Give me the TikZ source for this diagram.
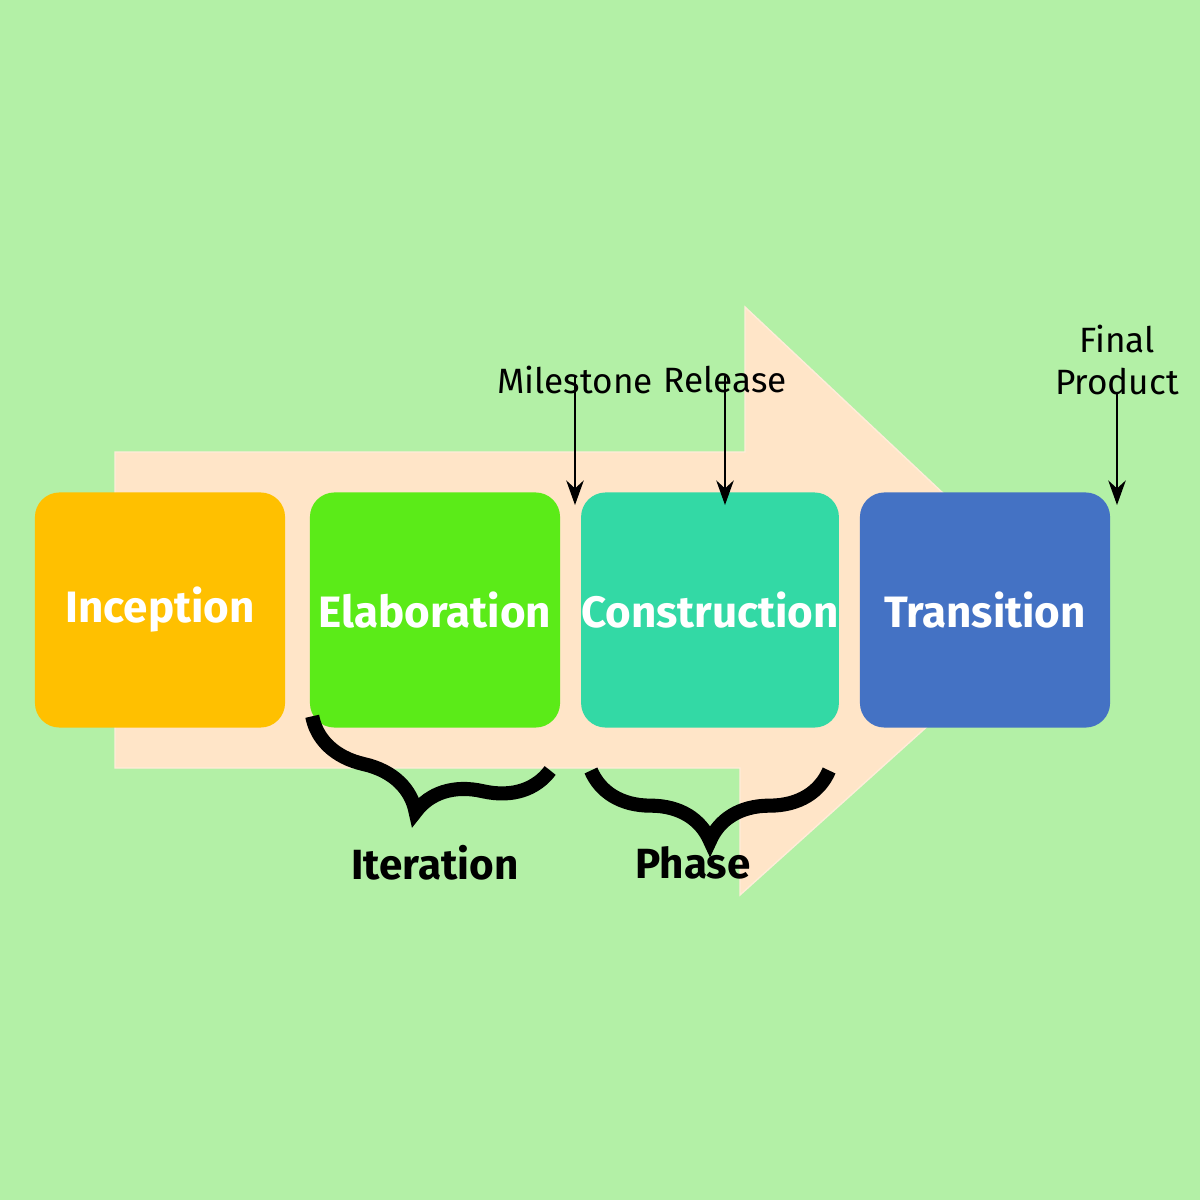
\documentclass[tikz,border=0pt]{standalone}
\usepackage{fontspec}
\setmainfont{Fira Sans}
\usetikzlibrary{decorations.pathreplacing,arrows.meta}
\definecolor{bg}{HTML}{B3F0A6}
\definecolor{peach}{HTML}{FFE5C8}
\definecolor{c1}{HTML}{FFC000}
\definecolor{c2}{HTML}{5BEB18}
\definecolor{c3}{HTML}{33D9A5}
\definecolor{c4}{HTML}{4472C4}
\tikzset{
 phasebox/.style={rounded corners=7pt,minimum width=2.5cm,minimum height=2.35cm,inner sep=0pt,text=white,font=\fontsize{12.5}{14}\selectfont\bfseries},
 lbl/.style={font=\fontsize{10}{12}\selectfont,align=center},
 ptr/.style={-{Stealth[length=7pt,width=5pt]},thin},
 brc/.style={decorate,decoration={brace,mirror,amplitude=20pt},line width=4pt},
 blbl/.style={font=\fontsize{12}{14}\selectfont\bfseries}
}
\begin{document}
\begin{tikzpicture}[x=0.01cm,y=-0.01cm]
\fill[bg] (0,0) rectangle (1200,1200);
\useasboundingbox (0,0) rectangle (1200,1200);
\draw[peach!80!orange!40,fill=peach] (115,452) -- (745,452) -- (745,307) -- (1062,605) -- (740,895) -- (740,768) -- (115,768) -- cycle;
\node[phasebox,fill=c1] (inc) at (160,610) {Inception};
\node[phasebox,fill=c2] (ela) at (435,610) {Elaboration};
\node[phasebox,fill=c3] (con) at (710,610) {Construction};
\node[phasebox,fill=c4] (tra) at (985,610) {Transition};
\node[lbl] (ms) at (575,380) {Milestone};
\node[lbl] (rel) at (725,380) {Release};
\node[lbl] (fp) at (1117,360) {Final\\Product};
\coordinate (msE) at (575,505);
\coordinate (relE) at (725,505);
\coordinate (fpE) at (1117,505);
\draw[ptr] (ms.south) ++(0,-30) -- (msE);
\draw[ptr] (rel.south) ++(0,-30) -- (relE);
\draw[ptr] (fp.south) ++(0,-15) -- (fpE);
\draw[brc] (ela.south west) ++(3,-12) coordinate (b1) -- ([xshift=-3pt,yshift=-12pt]ela.south east);
\draw[brc] ([xshift=3pt,yshift=-12pt]con.south west) -- ([xshift=-3pt,yshift=-12pt]con.south east);
\node[blbl] (it) at (435,863) {Iteration};
\node[blbl] (ph) at (693,863) {Phase};
\end{tikzpicture}
\end{document}
